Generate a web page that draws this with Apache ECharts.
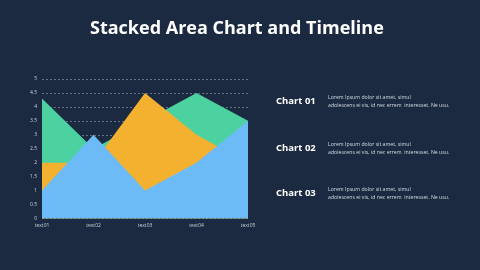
<!DOCTYPE html>
<html>
<head>
<meta charset="utf-8">
<script src="https://cdn.jsdelivr.net/npm/echarts@6/dist/echarts.min.js"></script>
<style>
  html, body { margin: 0; padding: 0; background: #1b2a40; }
  #chart { width: 480px; height: 270px; }
</style>
</head>
<body>
<div id="chart"></div>
<script>
// data
var categories = ['text01', 'text02', 'text03', 'text04', 'text05']
var chart01 = [4.3, 2.5, 3.5, 4.5, 3.5]
var chart02 = [2, 2, 4.5, 3, 2]
var chart03 = [1, 3, 1, 2, 3.5]
var legendNames = ['Chart 01', 'Chart 02', 'Chart 03']
var loremText = 'Lorem Ipsum dolor sit amet, simul\nadolescens ei vis, id nec errem  interesset. Ne usu.'

var colors = ['#4cd1a0', '#f4b02f', '#6dbbf6']

var myChart = echarts.init(document.getElementById('chart'))

function areaSeries(name, data, color, z) {
  return {
    name: name,
    type: 'line',
    data: data,
    symbol: 'none',
    z: z,
    lineStyle: { width: 0 },
    areaStyle: { color: color, opacity: 1 },
    itemStyle: { color: color },
  }
}

// right side labels
var sideTexts = []
var rowY = [101, 148, 193]
legendNames.forEach(function (name, i) {
  sideTexts.push({
    type: 'text',
    left: 276,
    top: rowY[i] - 5,
    style: {
      text: name,
      fill: '#ffffff',
      font: 'bold 9.5px "Open Sans"',
    },
  })
  sideTexts.push({
    type: 'text',
    left: 328,
    top: rowY[i] - 7.5,
    style: {
      text: loremText,
      fill: '#d5dbe3',
      font: '5.2px "Open Sans"',
      lineHeight: 8,
    },
  })
})

myChart.setOption({
  backgroundColor: '#1b2a40',
  animation: false,
  title: {
    text: 'Stacked Area Chart and Timeline',
    left: 85,
    top: 15,
    textStyle: {
      color: '#ffffff',
      fontFamily: 'Open Sans',
      fontWeight: 'bold',
      fontSize: 18,
    },
  },
  grid: {
    left: 42,
    right: 232,
    top: 79,
    bottom: 51.5,
  },
  xAxis: {
    type: 'category',
    data: categories,
    boundaryGap: false,
    axisLine: { show: false },
    axisTick: { show: false },
    axisLabel: {
      color: '#c9d1dc',
      fontSize: 5,
      fontFamily: 'Open Sans',
      margin: 5,
    },
  },
  yAxis: {
    type: 'value',
    min: 0,
    max: 5,
    interval: 0.5,
    axisLine: { show: false },
    axisTick: { show: false },
    axisLabel: {
      color: '#c9d1dc',
      fontSize: 5,
      fontFamily: 'Open Sans',
      margin: 5,
    },
    //网格样式
    splitLine: {
      show: true,
      lineStyle: {
        color: '#9aa6b6',
        width: 0.6,
        type: [2, 2],
      },
    },
  },
  series: [
    areaSeries(legendNames[0], chart01, colors[0], 1),
    areaSeries(legendNames[1], chart02, colors[1], 2),
    areaSeries(legendNames[2], chart03, colors[2], 3),
  ],
  graphic: sideTexts,
})
</script>
</body>
</html>
